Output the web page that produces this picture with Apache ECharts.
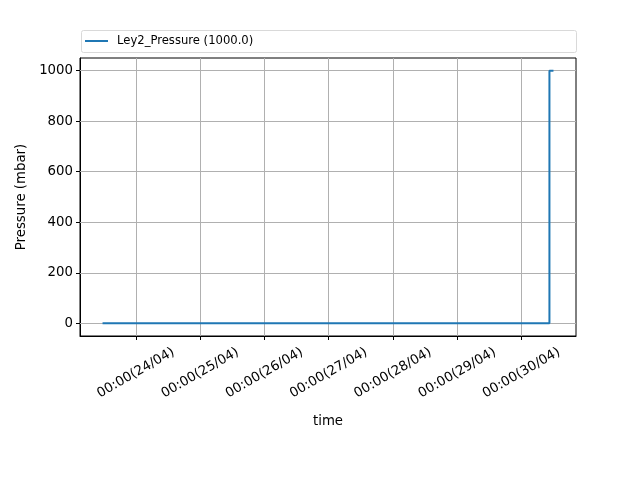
<!DOCTYPE html>
<html><head><meta charset="utf-8">
<script src="https://cdn.jsdelivr.net/npm/echarts@6/dist/echarts.min.js"></script>
<style>html,body{margin:0;padding:0;background:#fff}#c{width:640px;height:480px}</style>
</head><body><div id="c"></div>
<script>
// Data (times in UTC, year assumed)
var times = ['2024-04-23T11:34', '2024-04-30T10:26', '2024-04-30T10:26', '2024-04-30T11:56'];
var pressure = [0, 0, 1000, 1000];
var seriesName = 'Ley2_Pressure (1000.0)';
var xTickDays = ['2024-04-24', '2024-04-25', '2024-04-26', '2024-04-27', '2024-04-28', '2024-04-29', '2024-04-30'];
var yTicks = [0, 200, 400, 600, 800, 1000];

function ts(s) { return Date.parse(s + (s.length > 10 ? ':00Z' : 'T00:00:00Z')); }
var tVals = times.map(ts);
var tMin = Math.min.apply(null, tVals), tMax = Math.max.apply(null, tVals);
var pad = (tMax - tMin) * 0.05;
var xTicks = xTickDays.map(ts);
var data = tVals.map(function (t, i) { return [t, pressure[i]]; });
function pad2(n) { return (n < 10 ? '0' : '') + n; }
function fmt(v) {
  var d = new Date(v);
  return pad2(d.getUTCHours()) + ':' + pad2(d.getUTCMinutes()) + '(' + pad2(d.getUTCDate()) + '/' + pad2(d.getUTCMonth() + 1) + ')';
}
var font = 'DejaVu Sans';
var chart = echarts.init(document.getElementById('c'), null, { renderer: 'canvas' });
chart.setOption({
  animation: false,
  textStyle: { fontFamily: font },
  grid: { left: 80, right: 64, top: 58, bottom: 144, containLabel: false, show: false },
  legend: {
    left: 85, top: 35, padding: 0, itemWidth: 23, itemHeight: 2, itemGap: 8,
    textStyle: { fontFamily: font, fontSize: 11.6, color: '#000', padding: [0, 0, 0, 4] },
    icon: 'rect',
    data: [{ name: seriesName, icon: 'rect' }]
  },
  graphic: [{
    type: 'rect', left: 81, top: 30, z: -1,
    shape: { width: 495, height: 22, r: 2 },
    style: { fill: '#fff', stroke: '#d9d9d9', lineWidth: 1 }
  }],
  xAxis: {
    type: 'value', min: tMin - pad, max: tMax + pad,
    name: 'time', nameLocation: 'middle', nameGap: 79,
    nameTextStyle: { fontFamily: font, fontSize: 13.3, color: '#000' },
    axisLine: { show: true, onZero: false, lineStyle: { color: '#000', width: 1 } },
    axisTick: { show: true, length: 4, inside: false, customValues: xTicks, lineStyle: { color: '#000' } },
    axisLabel: {
      customValues: xTicks, formatter: fmt, rotate: 30, align: 'center', verticalAlign: 'middle',
      margin: 37, fontFamily: font, fontSize: 13.3, color: '#000'
    },
    splitLine: { show: false }
  },
  yAxis: {
    type: 'value', min: -50, max: 1050,
    name: 'Pressure (mbar)', nameLocation: 'middle', nameGap: 52, nameRotate: 90,
    nameTextStyle: { fontFamily: font, fontSize: 13.3, color: '#000' },
    axisLine: { show: true, onZero: false, lineStyle: { color: '#000', width: 1 } },
    axisTick: { show: true, length: 4, customValues: yTicks, lineStyle: { color: '#000' } },
    axisLabel: { customValues: yTicks, formatter: function (v) { return String(v); }, margin: 7, fontFamily: font, fontSize: 13.3, color: '#000' },
    splitLine: { show: false }
  },
  series: [{
    name: seriesName, type: 'line', data: data, showSymbol: false, symbol: 'none',
    lineStyle: { color: '#1f77b4', width: 2 }, itemStyle: { color: '#1f77b4' }, z: 5,
    markLine: {
      silent: true, symbol: 'none', animation: false, z: 1,
      lineStyle: { color: '#b0b0b0', width: 1, type: 'solid' },
      label: { show: false },
      data: xTicks.map(function (t) { return { xAxis: t }; }).concat(yTicks.map(function (v) { return { yAxis: v }; }))
    }
  }, {
    type: 'line', data: [], silent: true,
    markArea: {
      silent: true, itemStyle: { color: 'rgba(0,0,0,0)', borderColor: '#000', borderWidth: 1 },
      data: [[{ xAxis: tMin - pad, yAxis: -50 }, { xAxis: tMax + pad, yAxis: 1050 }]]
    }
  }]
});
</script></body></html>
